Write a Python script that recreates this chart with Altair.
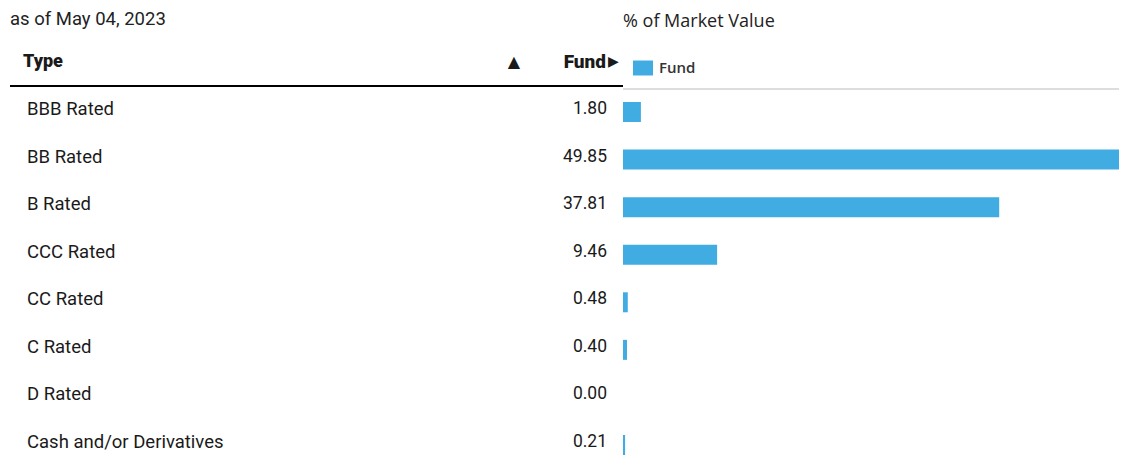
import altair as alt
import pandas as pd

categories = ["BBB Rated", "BB Rated", "B Rated", "CCC Rated", "CC Rated",
              "C Rated", "D Rated", "Cash and/or Derivatives"]
values = [1.80, 49.85, 37.81, 9.46, 0.48, 0.40, 0.00, 0.21]
value_labels = ["1.80", "49.85", "37.81", "9.46", "0.48", "0.40", "0.00", "0.21"]
series_name = "Fund"
as_of_text = "as of May 04, 2023"
chart_title = "% of Market Value"
header_type = "Type"
header_sort = "▲"
header_fund = "Fund"
header_arrow = "▶"

BAR_COLOR = "#41ACE2"
TEXT_COLOR = "#1a1a1a"
FONT = "Roboto"

df = pd.DataFrame({"category": categories, "value": values,
                   "label": value_labels, "series": [series_name] * len(categories)})

yscale = alt.Scale(domain=categories, range=[80.2, 460.8], paddingInner=0, paddingOuter=0)
xscale = alt.Scale(domain=[0, 50], range=[615, 1112.5])

base = alt.Chart(df)

bars = base.mark_bar(size=20).encode(
    x=alt.X("value:Q", scale=xscale, axis=None),
    y=alt.Y("category:N", scale=yscale, axis=None, sort=categories),
    color=alt.Color("series:N", scale=alt.Scale(range=[BAR_COLOR]),
                    legend=alt.Legend(orient="none", legendX=625, legendY=50, title=None,
                                      symbolType="M-1,-0.75H1V0.75H-1Z", symbolSize=400,
                                      symbolStrokeWidth=0, symbolOpacity=1,
                                      labelFont="Open Sans", labelFontSize=15,
                                      labelFontWeight=600, labelColor="#333333",
                                      labelOffset=6, padding=0)),
)

row_labels = base.mark_text(align="left", baseline="middle", dy=-3, fontSize=18.5,
                            font=FONT, color=TEXT_COLOR).encode(
    x=alt.value(19),
    y=alt.Y("category:N", scale=yscale, axis=None, sort=categories),
    text="category:N",
)

val_labels = base.mark_text(align="right", baseline="middle", dy=-3, fontSize=17.5,
                            font=FONT, color=TEXT_COLOR).encode(
    x=alt.value(599),
    y=alt.Y("category:N", scale=yscale, axis=None, sort=categories),
    text="label:N",
)

def text_layer(txt, x, y, align="left", size=16, weight="normal", font=FONT, color=TEXT_COLOR):
    return alt.Chart(pd.DataFrame({"t": [txt]})).mark_text(
        align=align, baseline="middle", fontSize=size, fontWeight=weight,
        font=font, color=color).encode(x=alt.value(x), y=alt.value(y), text="t:N")

as_of = text_layer(as_of_text, 2, 11, size=18.5, color="#222222")
title = text_layer(chart_title, 615, 14, size=18, font="Open Sans", color="#222222")
h_type = text_layer(header_type, 15, 54, size=18, weight=900)
h_sort = text_layer(header_sort, 506, 54, align="center", size=16, font="DejaVu Sans")
h_fund = text_layer(header_fund, 598, 54, align="right", size=19, weight=900)
h_arrow = text_layer(header_arrow, 600, 54, align="left", size=14, font="DejaVu Sans")

black_rule = alt.Chart(pd.DataFrame({"a": [0]})).mark_rule(color="#000000", strokeWidth=2).encode(
    x=alt.value(2), x2=alt.value(615), y=alt.value(78))
gray_rule = alt.Chart(pd.DataFrame({"a": [0]})).mark_rule(color="#dddddd", strokeWidth=2).encode(
    x=alt.value(615), x2=alt.value(1119), y=alt.value(81))

chart = alt.layer(bars, row_labels, val_labels, as_of, title, h_type, h_sort, h_fund, h_arrow,
                  black_rule, gray_rule).properties(
    width=1111, height=450, autosize=alt.AutoSizeParams(type="none"), padding=0
).configure_view(stroke=None)

chart.save("out.html", embed_options={"renderer": "svg", "actions": False})
